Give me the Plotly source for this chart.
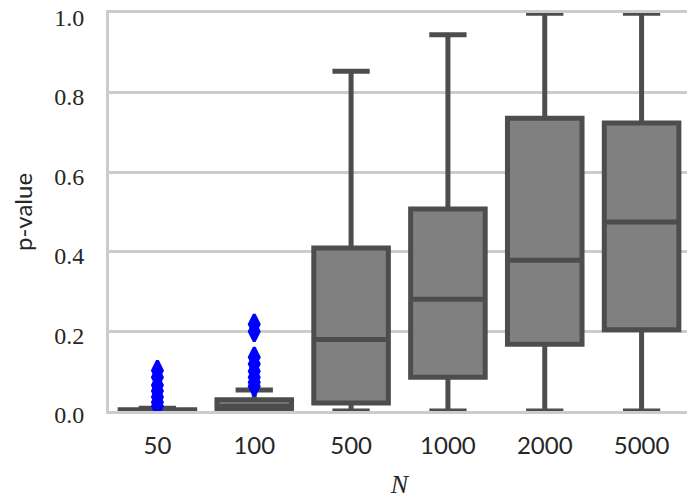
import plotly.graph_objects as go

categories = ["50", "100", "500", "1000", "2000", "5000"]
q1 = [0.0, 0.002, 0.02, 0.085, 0.168, 0.204]
median = [0.001, 0.012, 0.18, 0.281, 0.379, 0.475]
q3 = [0.003, 0.028, 0.41, 0.508, 0.736, 0.724]
lower_whisker = [0.0, 0.0, 0.0, 0.0, 0.0, 0.0]
upper_whisker = [0.007, 0.053, 0.854, 0.946, 1.0, 1.0]

outliers = {
    "50": [0.102, 0.085, 0.065, 0.05, 0.035, 0.022, 0.012],
    "100": [0.218, 0.2, 0.135, 0.118, 0.10, 0.085, 0.072, 0.062],
}

yticks = [0.0, 0.2, 0.4, 0.6, 0.8, 1.0]

box_fill = "#808080"
box_line = "#4d4d4d"
grid = "#cccccc"
text_color = "#262626"

fig = go.Figure()
fig.add_trace(go.Box(
    x=categories, q1=q1, median=median, q3=q3,
    lowerfence=lower_whisker, upperfence=upper_whisker,
    fillcolor=box_fill, line=dict(color=box_line, width=5),
    whiskerwidth=0.5, width=0.77, boxpoints=False,
    hoverinfo="skip", showlegend=False,
))

ox, oy = [], []
for c, vals in outliers.items():
    for v in vals:
        ox.append(c)
        oy.append(v)
fig.add_trace(go.Scatter(
    x=ox, y=oy, mode="markers",
    marker=dict(symbol="diamond-tall", size=14, color="#0000ff",
                line=dict(color="#0000ff", width=3)),
    hoverinfo="skip", showlegend=False, cliponaxis=True,
))

fig.update_layout(
    width=687, height=491,
    margin=dict(l=101, r=5, t=5, b=88, autoexpand=False),
    plot_bgcolor="white", paper_bgcolor="white",
    xaxis=dict(
        type="category", categoryorder="array", categoryarray=categories,
        range=[-0.5, 5.5], showgrid=False, zeroline=False, automargin=False,
        showline=True, mirror=True, linecolor=grid, linewidth=3,
        ticks="", ticklabelstandoff=11,
        tickfont=dict(family="Lato", size=24, color=text_color),
        title=dict(text="<i>N</i>", standoff=20,
                   font=dict(family="Liberation Serif", size=26, color=text_color)),
    ),
    yaxis=dict(
        range=[0, 1.0005], tickvals=yticks, ticktext=[f"{v:.1f}" for v in yticks],
        showgrid=True, gridcolor=grid, gridwidth=2.5, zeroline=False, automargin=False,
        showline=True, mirror=True, linecolor=grid, linewidth=3,
        ticks="", ticklabelstandoff=17, ticklabeloverflow="allow", ticklabelshift=4,
        tickfont=dict(family="Liberation Serif", size=24, color=text_color),
        title=dict(text="p-value", standoff=21,
                   font=dict(family="Lato", size=24, color=text_color)),
    ),
)

fig.write_html("out.html")
